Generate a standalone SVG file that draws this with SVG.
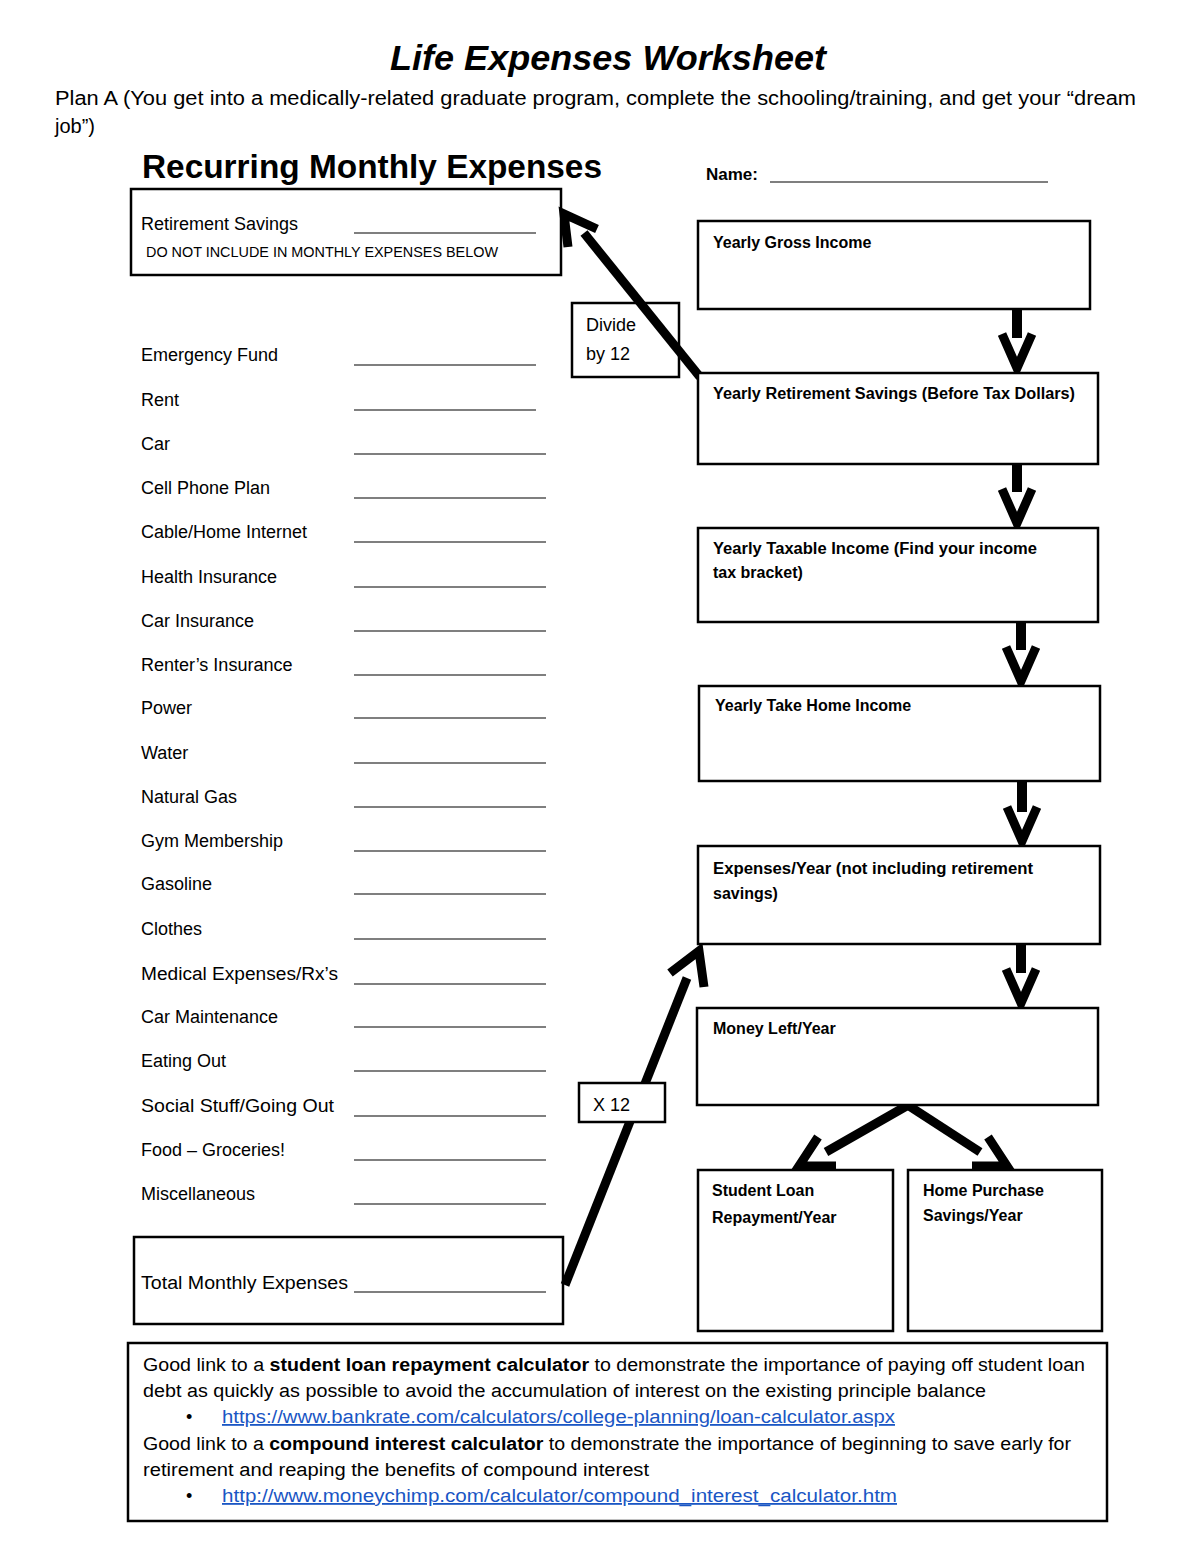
<svg xmlns="http://www.w3.org/2000/svg" width="1200" height="1553" viewBox="0 0 1200 1553">
<style>
  text { font-family: "Liberation Sans", Arial, sans-serif; fill: #000; }
  .box { fill: #fff; stroke: #000; stroke-width: 2.5; }
  .lbl { font-size: 18px; }
  .bl { font-size: 16px; font-weight: bold; }
  .ul { stroke: #000; stroke-width: 1.2; }
  .arr { fill: none; stroke: #000; stroke-width: 9; stroke-linecap: butt; stroke-linejoin: miter; }
  .body { font-size: 18px; }
  .link { fill: #1a56c4; font-size: 18px; text-decoration: underline; }
</style>
<rect width="1200" height="1553" fill="#fff"/>

<g id="header">
  <text x="608" y="70" text-anchor="middle" font-size="35" font-weight="bold" font-style="italic" textLength="436" lengthAdjust="spacingAndGlyphs">Life Expenses Worksheet</text>
  <text x="55" y="105" font-size="20" textLength="1081" lengthAdjust="spacingAndGlyphs">Plan A  (You get into a medically-related graduate program, complete the schooling/training, and get your “dream</text>
  <text x="55" y="133" font-size="20">job”)</text>
  <text x="142" y="178" font-size="33" font-weight="bold" textLength="460" lengthAdjust="spacingAndGlyphs">Recurring Monthly Expenses</text>
  <text x="706" y="180" font-size="17" font-weight="bold">Name:</text>
  <line x1="770" y1="182" x2="1048" y2="182" class="ul"/>
</g>

<g id="retirement-box">
  <rect x="131" y="189" width="430" height="86" class="box"/>
  <text x="141" y="230" class="lbl">Retirement Savings</text>
  <line x1="354" y1="233" x2="536" y2="233" class="ul"/>
  <text x="146" y="257" font-size="15" textLength="352" lengthAdjust="spacingAndGlyphs">DO NOT INCLUDE IN MONTHLY EXPENSES BELOW</text>
</g>

<g id="expense-list" class="lbl">
  <text x="141" y="361">Emergency Fund</text><line x1="354" y1="365" x2="536" y2="365" class="ul"/>
  <text x="141" y="406">Rent</text><line x1="354" y1="410" x2="536" y2="410" class="ul"/>
  <text x="141" y="450">Car</text><line x1="354" y1="454" x2="546" y2="454" class="ul"/>
  <text x="141" y="494">Cell Phone Plan</text><line x1="354" y1="498" x2="546" y2="498" class="ul"/>
  <text x="141" y="538">Cable/Home Internet</text><line x1="354" y1="542" x2="546" y2="542" class="ul"/>
  <text x="141" y="583">Health Insurance</text><line x1="354" y1="587" x2="546" y2="587" class="ul"/>
  <text x="141" y="627">Car Insurance</text><line x1="354" y1="631" x2="546" y2="631" class="ul"/>
  <text x="141" y="671">Renter’s Insurance</text><line x1="354" y1="675" x2="546" y2="675" class="ul"/>
  <text x="141" y="714">Power</text><line x1="354" y1="718" x2="546" y2="718" class="ul"/>
  <text x="141" y="759">Water</text><line x1="354" y1="763" x2="546" y2="763" class="ul"/>
  <text x="141" y="803">Natural Gas</text><line x1="354" y1="807" x2="546" y2="807" class="ul"/>
  <text x="141" y="847">Gym Membership</text><line x1="354" y1="851" x2="546" y2="851" class="ul"/>
  <text x="141" y="890">Gasoline</text><line x1="354" y1="894" x2="546" y2="894" class="ul"/>
  <text x="141" y="935">Clothes</text><line x1="354" y1="939" x2="546" y2="939" class="ul"/>
  <text x="141" y="980" textLength="197" lengthAdjust="spacingAndGlyphs">Medical Expenses/Rx’s</text><line x1="354" y1="984" x2="546" y2="984" class="ul"/>
  <text x="141" y="1023">Car Maintenance</text><line x1="354" y1="1027" x2="546" y2="1027" class="ul"/>
  <text x="141" y="1067">Eating Out</text><line x1="354" y1="1071" x2="546" y2="1071" class="ul"/>
  <text x="141" y="1112" textLength="193" lengthAdjust="spacingAndGlyphs">Social Stuff/Going Out</text><line x1="354" y1="1116" x2="546" y2="1116" class="ul"/>
  <text x="141" y="1156">Food – Groceries!</text><line x1="354" y1="1160" x2="546" y2="1160" class="ul"/>
  <text x="141" y="1200">Miscellaneous</text><line x1="354" y1="1204" x2="546" y2="1204" class="ul"/>
</g>

<g id="total-box">
  <rect x="134" y="1237" width="429" height="87" class="box"/>
  <text x="141" y="1289" class="lbl" textLength="207" lengthAdjust="spacingAndGlyphs">Total Monthly Expenses</text>
  <line x1="354" y1="1292" x2="546" y2="1292" class="ul"/>
</g>

<g id="divide-box">
  <rect x="572" y="303" width="107" height="74" class="box"/>
  <text x="586" y="331" class="lbl">Divide</text>
  <text x="586" y="360" class="lbl">by 12</text>
</g>

<g id="connectors">
  <!-- divide by 12 arrow -->
  <line x1="700" y1="377" x2="584" y2="233" class="arr"/>
  <polyline points="568,247 564,214 597,229" class="arr"/>
  <!-- x 12 arrow -->
  <line x1="565" y1="1285" x2="687" y2="978" class="arr"/>
  <polyline points="670,973 699,951 704,987" class="arr"/>
  <!-- down arrows -->
  <line x1="1017" y1="309" x2="1017" y2="338" stroke="#000" stroke-width="10"/>
  <polyline points="1002,334 1017,368 1032,334" class="arr"/>
  <line x1="1017" y1="464" x2="1017" y2="492" stroke="#000" stroke-width="10"/>
  <polyline points="1002,489 1017,523 1032,489" class="arr"/>
  <line x1="1021" y1="622" x2="1021" y2="650" stroke="#000" stroke-width="10"/>
  <polyline points="1006,647 1021,681 1036,647" class="arr"/>
  <line x1="1022" y1="781" x2="1022" y2="812" stroke="#000" stroke-width="10"/>
  <polyline points="1007,807 1022,841 1037,807" class="arr"/>
  <line x1="1021" y1="944" x2="1021" y2="973" stroke="#000" stroke-width="10"/>
  <polyline points="1006,969 1021,1003 1036,969" class="arr"/>
  <!-- split arrows -->
  <line x1="910" y1="1104" x2="826" y2="1152" class="arr"/>
  <polyline points="818,1137 799,1166 836,1166" class="arr"/>
  <line x1="906" y1="1104" x2="980" y2="1152" class="arr"/>
  <polyline points="988,1137 1007,1166 972,1166" class="arr"/>
</g>

<g id="x12-box">
  <rect x="579" y="1083" width="86" height="39" class="box"/>
  <text x="593" y="1111" class="lbl">X 12</text>
</g>

<g id="gross-income">
  <rect x="698" y="221" width="392" height="88" class="box"/>
  <text x="713" y="248" class="bl">Yearly Gross Income</text>
</g>
<g id="retirement-savings">
  <rect x="698" y="373" width="400" height="91" class="box"/>
  <text x="713" y="399" class="bl" textLength="362" lengthAdjust="spacingAndGlyphs">Yearly Retirement Savings (Before Tax Dollars)</text>
</g>
<g id="taxable-income">
  <rect x="698" y="528" width="400" height="94" class="box"/>
  <text x="713" y="554" class="bl" textLength="324" lengthAdjust="spacingAndGlyphs">Yearly Taxable Income (Find your income</text>
  <text x="713" y="578" class="bl">tax bracket)</text>
</g>
<g id="take-home">
  <rect x="699" y="686" width="401" height="95" class="box"/>
  <text x="715" y="711" class="bl">Yearly Take Home Income</text>
</g>
<g id="expenses-year">
  <rect x="698" y="846" width="402" height="98" class="box"/>
  <text x="713" y="874" class="bl" textLength="320" lengthAdjust="spacingAndGlyphs">Expenses/Year (not including retirement</text>
  <text x="713" y="899" class="bl">savings)</text>
</g>
<g id="money-left">
  <rect x="697" y="1008" width="401" height="97" class="box"/>
  <text x="713" y="1034" class="bl">Money Left/Year</text>
</g>
<g id="student-loan">
  <rect x="698" y="1170" width="195" height="161" class="box"/>
  <text x="712" y="1196" class="bl">Student Loan</text>
  <text x="712" y="1223" class="bl">Repayment/Year</text>
</g>
<g id="home-purchase">
  <rect x="908" y="1170" width="194" height="161" class="box"/>
  <text x="923" y="1196" class="bl">Home Purchase</text>
  <text x="923" y="1221" class="bl">Savings/Year</text>
</g>

<g id="links-box">
  <rect x="128" y="1343" width="979" height="178" class="box"/>
  <text x="143" y="1371" class="body" textLength="942" lengthAdjust="spacingAndGlyphs">Good link to a <tspan font-weight="bold">student loan repayment calculator</tspan> to demonstrate the importance of paying off student loan</text>
  <text x="143" y="1397" class="body" textLength="843" lengthAdjust="spacingAndGlyphs">debt as quickly as possible to avoid the accumulation of interest on the existing principle balance</text>
  <text x="186" y="1423" class="body">•</text>
  <text x="222" y="1423" class="link" textLength="673" lengthAdjust="spacingAndGlyphs">https://www.bankrate.com/calculators/college-planning/loan-calculator.aspx</text>
  <text x="143" y="1450" class="body" textLength="928" lengthAdjust="spacingAndGlyphs">Good link to a <tspan font-weight="bold">compound interest calculator</tspan> to demonstrate the importance of beginning to save early for</text>
  <text x="143" y="1476" class="body" textLength="506" lengthAdjust="spacingAndGlyphs">retirement and reaping the benefits of compound interest</text>
  <text x="186" y="1502" class="body">•</text>
  <text x="222" y="1502" class="link" textLength="675" lengthAdjust="spacingAndGlyphs">http://www.moneychimp.com/calculator/compound_interest_calculator.htm</text>
</g>
</svg>
